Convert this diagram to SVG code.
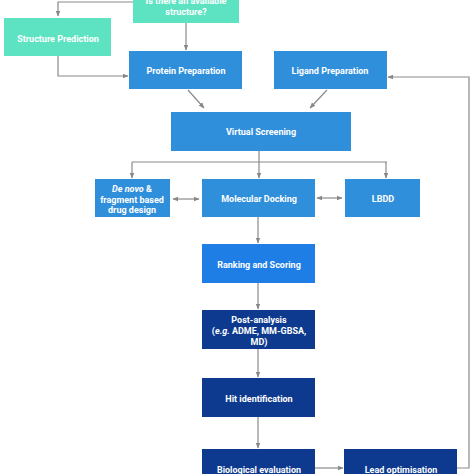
<svg xmlns="http://www.w3.org/2000/svg" width="474" height="474" viewBox="0 0 474 474">
<defs>
<marker id="ah" viewBox="0 0 10 10" refX="9" refY="5" markerWidth="6" markerHeight="6" orient="auto-start-reverse" markerUnits="userSpaceOnUse">
<path d="M0,1 L10,5 L0,9 z" fill="#888"/>
</marker>
<style>
.t{font-family:Roboto,"Liberation Sans",sans-serif;font-weight:bold;font-size:9px;fill:#fff;text-anchor:middle}
.teal{fill:#5de3c2}
.blue{fill:#2f8fdb}
.bright{fill:#1e7ee6}
.navy{fill:#0d3a8e}
.c{fill:none;stroke:#8a8a8a;stroke-width:1.2}
</style>
</defs>
<rect width="474" height="474" fill="#fff"/>
<g id="connectors">
<polyline class="c" points="133,2 58,2 58,16" marker-end="url(#ah)"/>
<line class="c" x1="186" y1="23" x2="186" y2="50" marker-end="url(#ah)"/>
<polyline class="c" points="58,56 58,76 128,76" marker-end="url(#ah)"/>
<line class="c" x1="188" y1="90" x2="204" y2="108" marker-end="url(#ah)"/>
<line class="c" x1="327" y1="90" x2="310" y2="108" marker-end="url(#ah)"/>
<line class="c" x1="259" y1="151" x2="259" y2="162"/>
<line class="c" x1="132" y1="162" x2="387" y2="162"/>
<line class="c" x1="132" y1="162" x2="132" y2="178" marker-end="url(#ah)"/>
<line class="c" x1="259" y1="162" x2="259" y2="178" marker-end="url(#ah)"/>
<line class="c" x1="386" y1="162" x2="386" y2="178" marker-end="url(#ah)"/>
<line class="c" x1="173" y1="199" x2="199" y2="199" marker-start="url(#ah)" marker-end="url(#ah)"/>
<line class="c" x1="317" y1="198" x2="342" y2="198" marker-start="url(#ah)" marker-end="url(#ah)"/>
<line class="c" x1="258" y1="217" x2="258" y2="243" marker-end="url(#ah)"/>
<line class="c" x1="258" y1="283" x2="258" y2="309" marker-end="url(#ah)"/>
<line class="c" x1="258" y1="349" x2="258" y2="377" marker-end="url(#ah)"/>
<line class="c" x1="258" y1="417" x2="258" y2="448" marker-end="url(#ah)"/>
<line class="c" x1="315" y1="468" x2="343" y2="468" marker-end="url(#ah)"/>
<polyline class="c" points="457,468 469,468 469,77 388,77" marker-end="url(#ah)"/>
</g>
<g id="available">
<rect class="teal" x="133" y="-16" width="106" height="39"/>
<text class="t" x="186" y="4">Is there an available</text>
<text class="t" x="186" y="15">structure?</text>
</g>
<g id="structure-prediction">
<rect class="teal" x="4" y="18" width="107" height="38"/>
<text class="t" x="58" y="42">Structure Prediction</text>
</g>
<g id="protein-preparation">
<rect class="blue" x="129" y="51" width="113" height="38"/>
<text class="t" x="186" y="74">Protein Preparation</text>
</g>
<g id="ligand-preparation">
<rect class="blue" x="274" y="51" width="113" height="38"/>
<text class="t" x="330" y="74">Ligand  Preparation</text>
</g>
<g id="virtual-screening">
<rect class="blue" x="171" y="112" width="180" height="39"/>
<text class="t" x="261" y="135">Virtual Screening</text>
</g>
<g id="de-novo">
<rect class="blue" x="95" y="179" width="75" height="38"/>
<text class="t" x="132" y="192"><tspan font-style="italic">De novo</tspan> &amp;</text>
<text class="t" x="132" y="202.5">fragment based</text>
<text class="t" x="132" y="213">drug design</text>
</g>
<g id="molecular-docking">
<rect class="blue" x="202" y="179" width="113" height="38"/>
<text class="t" x="259" y="202">Molecular Docking</text>
</g>
<g id="lbdd">
<rect class="blue" x="345" y="179" width="75" height="38"/>
<text class="t" x="383" y="202">LBDD</text>
</g>
<g id="ranking">
<rect class="bright" x="202" y="244" width="113" height="39"/>
<text class="t" x="259" y="268">Ranking and Scoring</text>
</g>
<g id="post-analysis">
<rect class="navy" x="202" y="310" width="113" height="39"/>
<text class="t" x="259" y="323">Post-analysis</text>
<text class="t" x="259" y="334">(<tspan font-style="italic">e.g.</tspan> ADME, MM-GBSA,</text>
<text class="t" x="259" y="345">MD)</text>
</g>
<g id="hit-identification">
<rect class="navy" x="202" y="378" width="113" height="39"/>
<text class="t" x="259" y="402">Hit identification</text>
</g>
<g id="biological-evaluation">
<rect class="navy" x="202" y="449" width="113" height="39"/>
<text class="t" x="259" y="473">Biological evaluation</text>
</g>
<g id="lead-optimisation">
<rect class="navy" x="344" y="449" width="113" height="39"/>
<text class="t" x="401" y="473">Lead optimisation</text>
</g>
</svg>
